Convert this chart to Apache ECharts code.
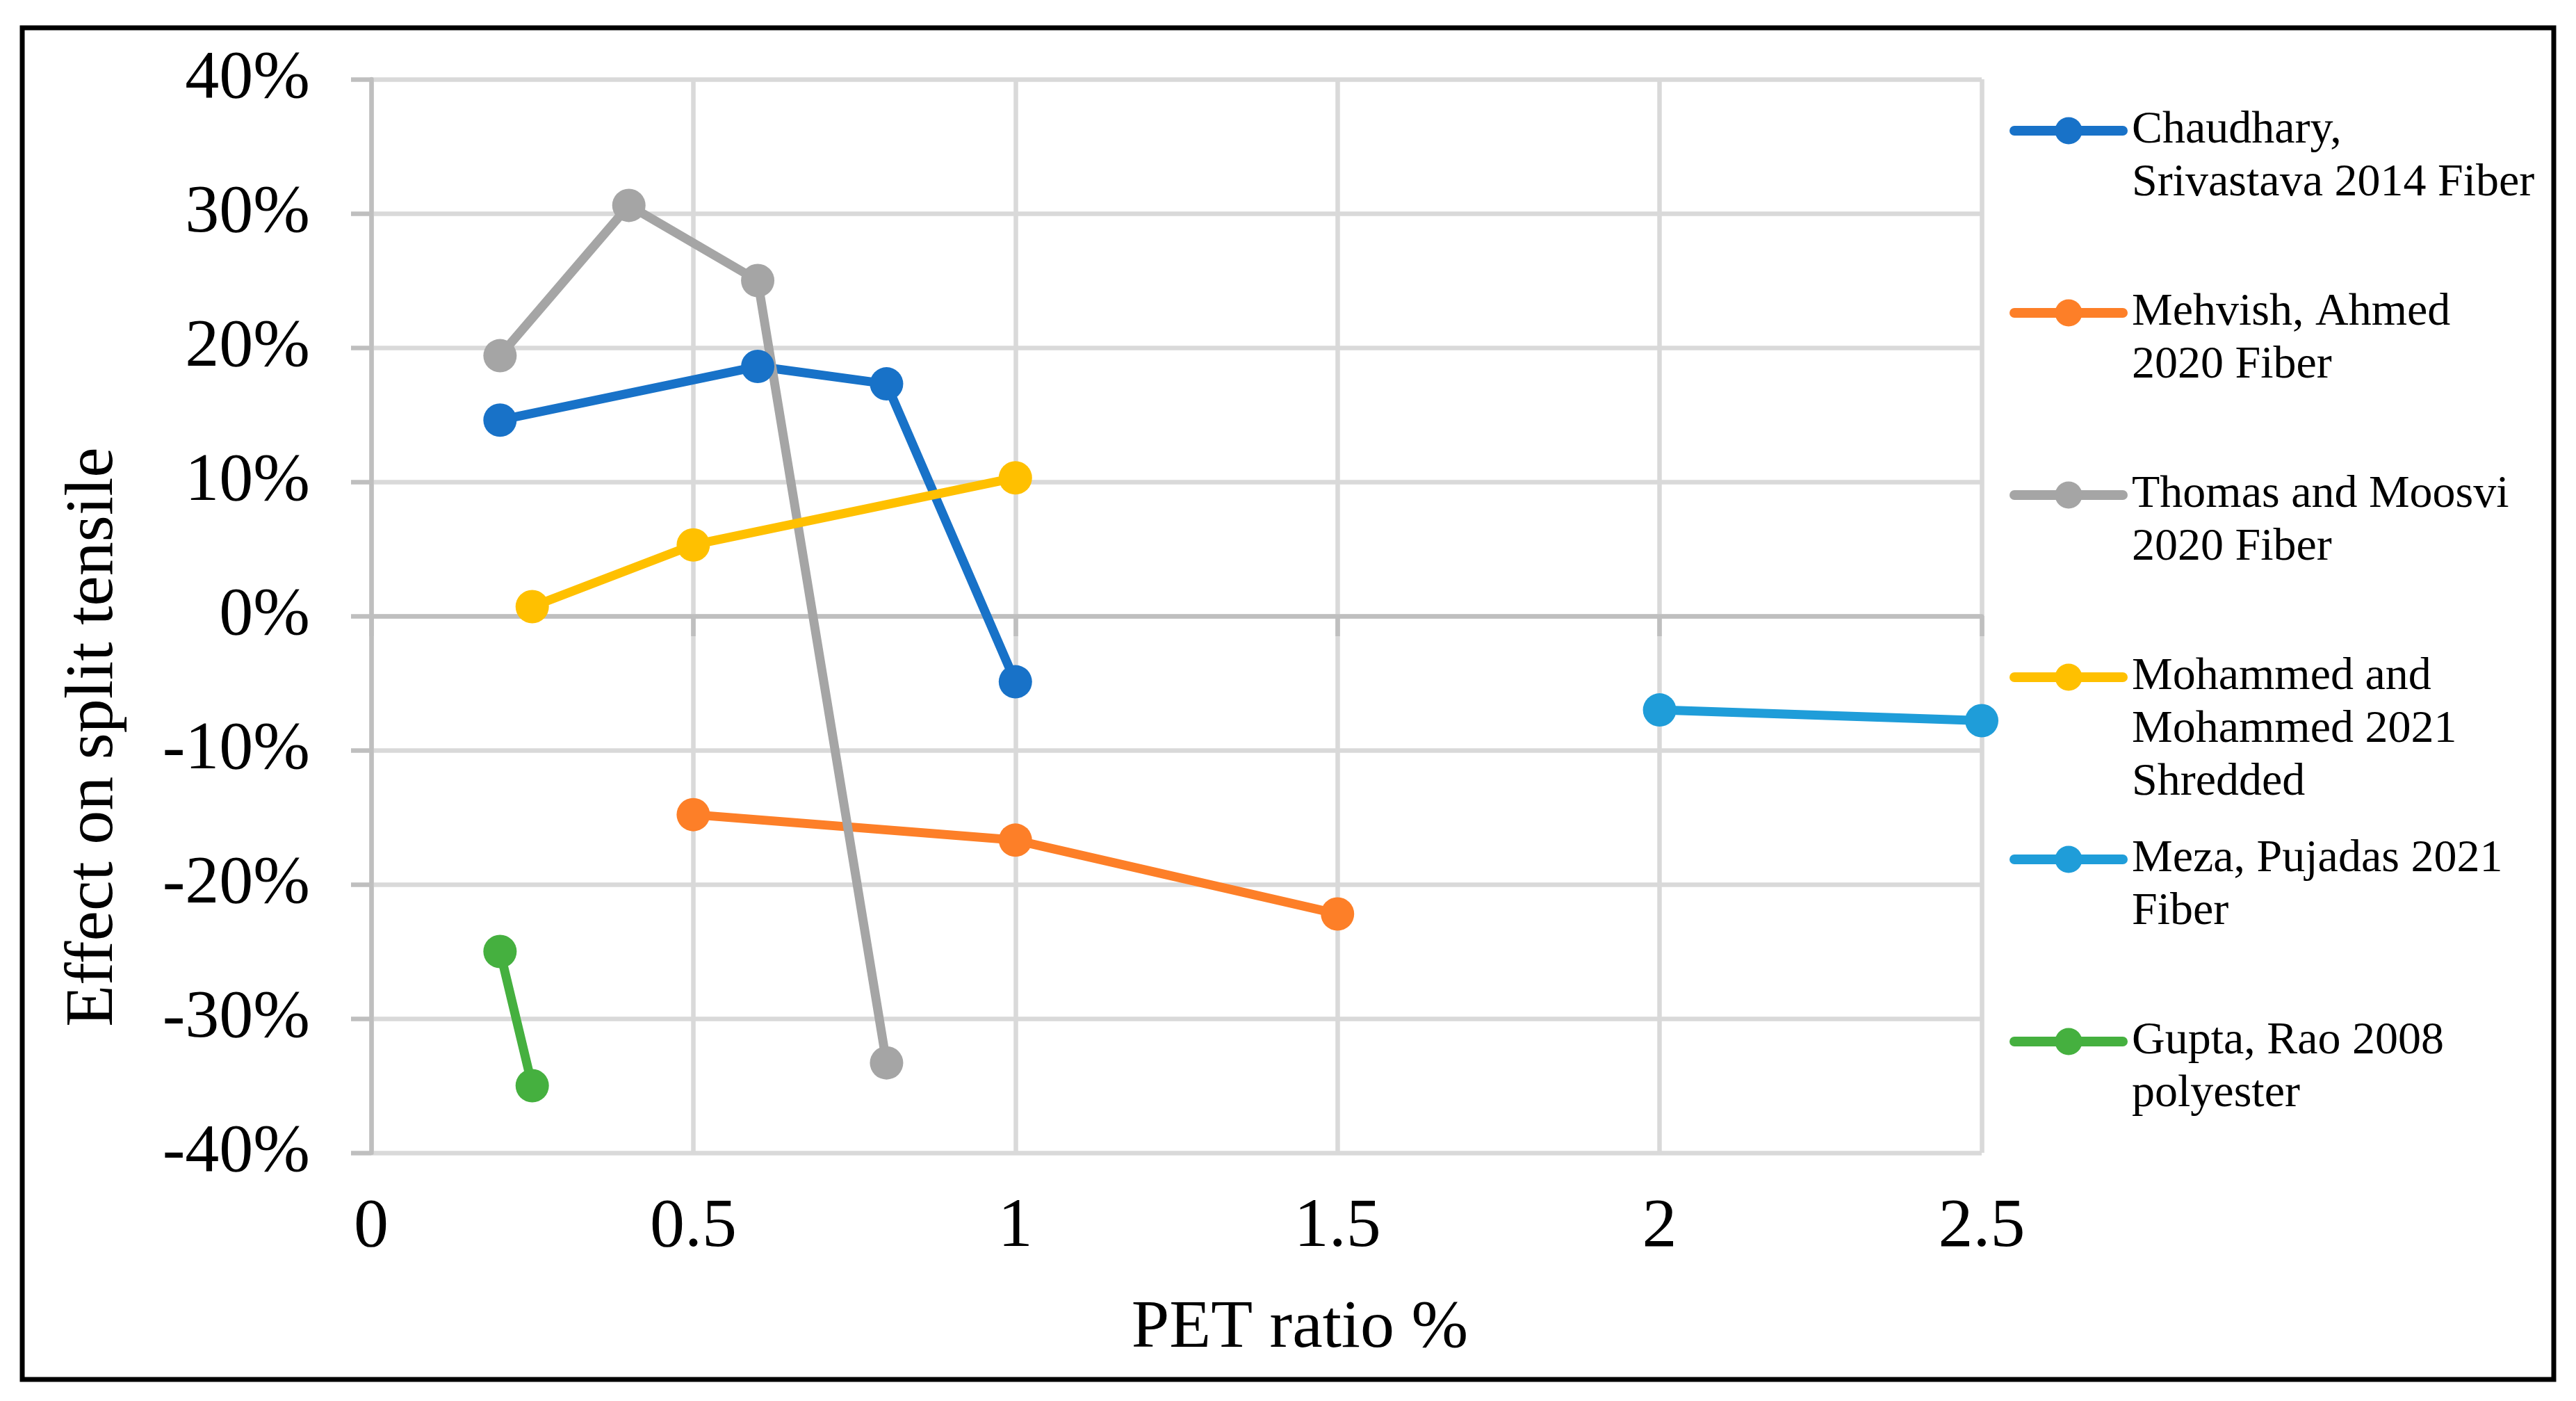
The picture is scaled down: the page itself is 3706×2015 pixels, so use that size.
<!DOCTYPE html>
<html><head><meta charset="utf-8">
<script src="https://cdn.jsdelivr.net/npm/echarts@6/dist/echarts.min.js"></script>
<style>html,body{margin:0;padding:0;background:#fff}#chart{width:3706px;height:2015px}</style>
</head><body><div id="chart"></div>
<script>
// ---- data ----
const seriesNames = [
  'Chaudhary, Srivastava 2014 Fiber',
  'Mehvish, Ahmed 2020 Fiber',
  'Thomas and Moosvi 2020 Fiber',
  'Mohammed and Mohammed 2021 Shredded',
  'Meza, Pujadas 2021 Fiber',
  'Gupta, Rao 2008 polyester'
];
const legendLabels = [
  'Chaudhary,\nSrivastava 2014 Fiber',
  'Mehvish, Ahmed\n2020 Fiber',
  'Thomas and Moosvi\n2020 Fiber',
  'Mohammed and\nMohammed 2021\nShredded',
  'Meza, Pujadas 2021\nFiber',
  'Gupta, Rao 2008\npolyester'
];
const seriesColors = ['#1872C8', '#FD7F28', '#A5A5A5', '#FFC000', '#1F9DD9', '#45B03F'];

const xChaudhary = [0.2, 0.6, 0.8, 1.0];
const yChaudhary = [14.6, 18.6, 17.3, -4.9];
const xMehvish = [0.5, 1.0, 1.5];
const yMehvish = [-14.8, -16.7, -22.2];
const xThomas = [0.2, 0.4, 0.6, 0.8];
const yThomas = [19.4, 30.6, 25.0, -33.3];
const xMohammed = [0.25, 0.5, 1.0];
const yMohammed = [0.7, 5.3, 10.3];
const xMeza = [2.0, 2.5];
const yMeza = [-7.0, -7.8];
const xGupta = [0.2, 0.25];
const yGupta = [-25.0, -35.0];

const xTickLabels = ['0', '0.5', '1', '1.5', '2', '2.5'];
const xTicks = [0, 0.5, 1, 1.5, 2, 2.5];
const yTicks = [-40, -30, -20, -10, 0, 10, 20, 30, 40];

const xTitle = 'PET ratio %';
const yTitle = 'Effect on split tensile';

// ---- build ----
const FONT = '"Liberation Serif", "Times New Roman", serif';
const xs = [xChaudhary, xMehvish, xThomas, xMohammed, xMeza, xGupta];
const ys = [yChaudhary, yMehvish, yThomas, yMohammed, yMeza, yGupta];

const series = seriesNames.map((name, i) => ({
  name: name,
  type: 'line',
  xAxisIndex: 0,
  yAxisIndex: 0,
  data: xs[i].map((x, j) => [x, ys[i][j]]),
  symbol: 'circle',
  symbolSize: 48,
  showSymbol: true,
  lineStyle: { width: 13, color: seriesColors[i], cap: 'round' },
  itemStyle: { color: seriesColors[i] },
  emphasis: { disabled: true },
  animation: false
}));

const LH = 76;
const legends = seriesNames.map((name, i) => {
  const n = legendLabels[i].split('\n').length;
  const pad = n - 1;
  const total = n + pad;
  return {
    data: [name],
    orient: 'vertical',
    left: 2891,
    top: 188 + i * 262 - total * LH / 2,
    padding: 0,
    itemWidth: 156,
    itemHeight: 49,
    selectedMode: false,
    formatter: () => '\n'.repeat(pad) + legendLabels[i],
    textStyle: { fontFamily: FONT, fontSize: 66, lineHeight: LH, color: '#000', padding: [0, 0, 0, 8] },
    lineStyle: { width: 14, cap: 'round' }
  };
});

const axisGray = '#BFBFBF';
const gridGray = '#D9D9D9';
const LW = 6.5;

const option = {
  animation: false,
  backgroundColor: '#fff',
  grid: { left: 534, right: 855, top: 114, bottom: 357, containLabel: false },
  xAxis: [
    {
      type: 'value', position: 'bottom',
      min: xTicks[0], max: xTicks[xTicks.length - 1], interval: xTicks[1] - xTicks[0],
      axisLine: { show: true, onZero: true, lineStyle: { color: axisGray, width: LW } },
      axisTick: { show: true, length: 29, lineStyle: { color: axisGray, width: LW } },
      axisLabel: { show: false },
      splitLine: { show: true, lineStyle: { color: gridGray, width: LW } }
    },
    {
      type: 'value', position: 'bottom',
      min: xTicks[0], max: xTicks[xTicks.length - 1], interval: xTicks[1] - xTicks[0],
      axisLine: { show: false, onZero: false },
      axisTick: { show: false },
      splitLine: { show: false },
      axisLabel: {
        show: true, margin: 58, fontFamily: FONT, fontSize: 100, color: '#000',
        formatter: (v) => { const k = xTicks.indexOf(v); return k >= 0 ? xTickLabels[k] : String(v); }
      }
    }
  ],
  yAxis: {
    type: 'value',
    min: yTicks[0], max: yTicks[yTicks.length - 1], interval: yTicks[1] - yTicks[0],
    axisLine: { show: true, onZero: false, lineStyle: { color: axisGray, width: LW } },
    axisTick: { show: true, length: 29, lineStyle: { color: axisGray, width: LW } },
    axisLabel: { margin: 88, fontFamily: FONT, fontSize: 98, color: '#000', formatter: '{value}%' },
    splitLine: { show: true, lineStyle: { color: gridGray, width: LW } }
  },
  legend: legends,
  series: series,
  graphic: [
    { type: 'rect', shape: { x: 32, y: 40, width: 3642, height: 1944 },
      style: { fill: 'none', stroke: '#000', lineWidth: 7 }, silent: true },
    { type: 'text', x: 1870, y: 1911,
      style: { text: xTitle, fontFamily: FONT, fontSize: 98, fill: '#000', align: 'center', verticalAlign: 'middle' } },
    { type: 'text', x: 135, y: 1060, rotation: Math.PI / 2,
      style: { text: yTitle, fontFamily: FONT, fontSize: 98, fill: '#000', align: 'center', verticalAlign: 'middle' } }
  ]
};

const chart = echarts.init(document.getElementById('chart'), null, { renderer: 'canvas' });
chart.setOption(option);
</script>
</body></html>
